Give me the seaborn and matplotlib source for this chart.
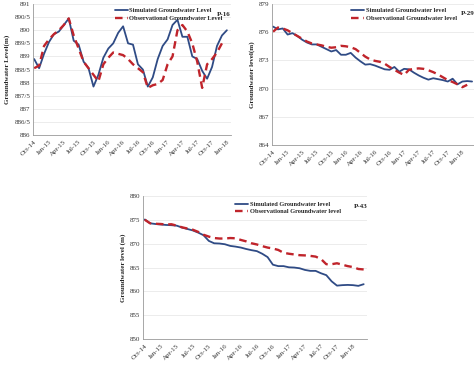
import numpy as np
import pandas as pd
import matplotlib
matplotlib.use("Agg")
import matplotlib.pyplot as plt
import seaborn as sns

# Rótulos do eixo x (trimestrais)
tick_labels = ["Oct-14", "Jan-15", "Apr-15", "Jul-15", "Oct-15", "Jan-16", "Apr-16",
               "Jul-16", "Oct-16", "Jan-17", "Apr-17", "Jul-17", "Oct-17", "Jan-18"]

# P-16
p16_sim = [888.9, 888.55, 889.1, 889.55, 889.85, 889.95, 890.2, 890.45, 889.6, 889.45,
           888.8, 888.55, 887.85, 888.3, 888.95, 889.3, 889.5, 889.9, 890.15, 889.5,
           889.45, 888.7, 888.5, 887.85, 888.2, 888.9, 889.4, 889.65, 890.2, 890.4,
           889.75, 889.75, 889.0, 888.9, 888.45, 888.15, 888.6, 889.4, 889.8, 890.0]
p16_obs = [888.55, 888.65, 889.4, 889.65, 889.85, 890.0, 890.2, 890.45, 889.8, 889.3,
           888.8, 888.55, 888.3, 888.05, 888.7, 888.95, 889.15, 889.1, 889.05, 888.9,
           888.7, 888.55, 888.4, 887.8, 887.9, 887.95, 888.1, 888.7, 889.0, 890.0,
           890.2, 889.95, 889.5, 888.8, 887.8, 888.7, 888.9, 889.15, 889.5]

# P-29
p29_sim = [876.6, 876.3, 876.4, 875.75, 875.9, 875.6, 875.2, 874.9, 874.7, 874.7,
           874.45, 874.2, 873.95, 874.1, 873.6, 873.6, 873.8, 873.3, 872.9, 872.55,
           872.6, 872.45, 872.25, 872.05, 872.0, 872.3, 871.8, 872.1, 872.05, 871.7,
           871.4, 871.15, 870.95, 871.1, 871.0, 870.9, 870.75, 871.05, 870.45, 870.75,
           870.8, 870.75]
p29_obs = [876.05, 876.5, 876.4, 876.2, 875.9, 875.6, 875.3, 875.0, 874.8, 874.7,
           874.6, 874.45, 874.35, 874.4, 874.55, 874.5, 874.4, 874.2, 873.8, 873.4,
           873.1, 872.95, 872.85, 872.65, 872.3, 872.0, 871.7, 871.45, 872.0, 872.1,
           872.15, 872.1, 871.95, 871.75, 871.5, 871.2, 870.9, 870.7, 870.45, 870.15,
           870.4]

# P-43
p43_sim = [875.1, 874.3, 874.15, 874.05, 873.95, 873.9, 873.8, 873.4, 873.1, 872.8,
           872.35, 871.8, 870.6, 870.1, 870.05, 869.9, 869.55, 869.4, 869.2, 868.9,
           868.65, 868.45, 867.9, 867.2, 865.6, 865.3, 865.3, 865.05, 865.0, 864.85,
           864.5, 864.3, 864.3, 863.8, 863.4, 862.1, 861.2, 861.3, 861.35, 861.3,
           861.15, 861.5]
p43_obs = [875.05, 874.3, 874.2, 874.15, 874.05, 874.1, 873.8, 873.45, 873.2, 872.95,
           872.5, 871.9, 871.5, 871.2, 871.1, 871.1, 871.2, 871.15, 870.8, 870.5,
           870.1, 869.85, 869.5, 869.2, 869.0, 868.7, 868.1, 867.9, 867.75, 867.6,
           867.55, 867.45, 867.3, 866.8, 865.7, 865.7, 865.9, 865.6, 865.3, 865.1,
           864.7, 864.6]

BLUE = "#2F4B85"
RED = "#C0242B"

sns.set_theme(style="white")
plt.rcParams["font.family"] = ["Liberation Serif", "DejaVu Serif"]


def build_df(sim, obs, sim_name, obs_name):
    df_sim = pd.DataFrame({"mes": np.arange(len(sim)), "nivel": sim, "serie": sim_name})
    df_obs = pd.DataFrame({"mes": np.arange(len(obs)), "nivel": obs, "serie": obs_name})
    return pd.concat([df_sim, df_obs], ignore_index=True)


def draw_panel(ax, sim, obs, sim_name, obs_name, yticks, ylabels, ylabel, tag,
               xlim, leg_anchor, tag_pos):
    df = build_df(sim, obs, sim_name, obs_name)
    sns.lineplot(data=df, x="mes", y="nivel", hue="serie", style="serie",
                 palette={sim_name: BLUE, obs_name: RED},
                 dashes={sim_name: "", obs_name: (3.2, 2.0)},
                 size="serie", sizes={sim_name: 1.3, obs_name: 1.7},
                 ax=ax, legend=True)
    ax.set_ylim(yticks[0], yticks[-1])
    ax.set_yticks(yticks)
    ax.set_yticklabels(ylabels, fontsize=5, color="#333333")
    ax.set_xlim(*xlim)
    ax.set_xticks(np.arange(0, 40, 3))
    ax.set_xticklabels(tick_labels, rotation=45, ha="right", rotation_mode="anchor",
                       fontsize=5, color="#333333")
    ax.tick_params(axis="x", length=2, width=0.5, color="#999999", pad=1)
    ax.tick_params(axis="y", length=0, pad=2)
    ax.grid(axis="y", color="#e4e4e4", linewidth=0.5)
    ax.set_axisbelow(True)
    for s in ["top", "right"]:
        ax.spines[s].set_visible(False)
    for s in ["left", "bottom"]:
        ax.spines[s].set_color("#999999")
        ax.spines[s].set_linewidth(0.6)
    ax.set_xlabel("")
    ax.set_ylabel(ylabel, fontsize=5, fontweight="bold", labelpad=3)
    handles, labels = ax.get_legend_handles_labels()
    ax.legend(handles, labels, loc="upper left", bbox_to_anchor=leg_anchor,
              frameon=False, prop={"size": 4.6, "weight": "bold"},
              handlelength=2.0, handletextpad=0.3, borderaxespad=0,
              labelspacing=0.3)
    ax.text(tag_pos[0], tag_pos[1], tag, transform=ax.transAxes, fontsize=5,
            fontweight="bold", ha="left", va="center")


fig = plt.figure(figsize=(4.74, 3.66), dpi=100)
fig.patch.set_facecolor("white")

ax1 = fig.add_axes([0.070, 0.631, 0.417, 0.358])
y1 = np.arange(886, 891.01, 0.5)
y1_labels = [f"{int(v)}" if v == int(v) else f"{int(v)}/5" for v in y1]
draw_panel(ax1, p16_sim, p16_obs, "Simulated Groundwater Level",
           "Observational Groundwater Level", y1, y1_labels,
           "Groundwater Level(m)", "P-16", (-0.2, 39.8), (0.40, 0.99), (0.93, 0.92))

ax2 = fig.add_axes([0.574, 0.604, 0.426, 0.385])
y2 = list(range(864, 880, 3))
draw_panel(ax2, p29_sim, p29_obs, "Simulated Groundwater level",
           "Observational Groundwater level", y2, [str(v) for v in y2],
           "Groundwater level(m)", "P-29", (-0.2, 41.4), (0.38, 0.99), (0.935, 0.93))

ax3 = fig.add_axes([0.302, 0.074, 0.472, 0.390])
y3 = list(range(850, 881, 5))
draw_panel(ax3, p43_sim, p43_obs, "Simulated Groundwater level",
           "Observational Groundwater level", y3, [str(v) for v in y3],
           "Groundwater level (m)", "P-43", (-0.3, 41.6), (0.40, 0.98), (0.94, 0.93))

fig.savefig("out.png", dpi=100, facecolor="white")
